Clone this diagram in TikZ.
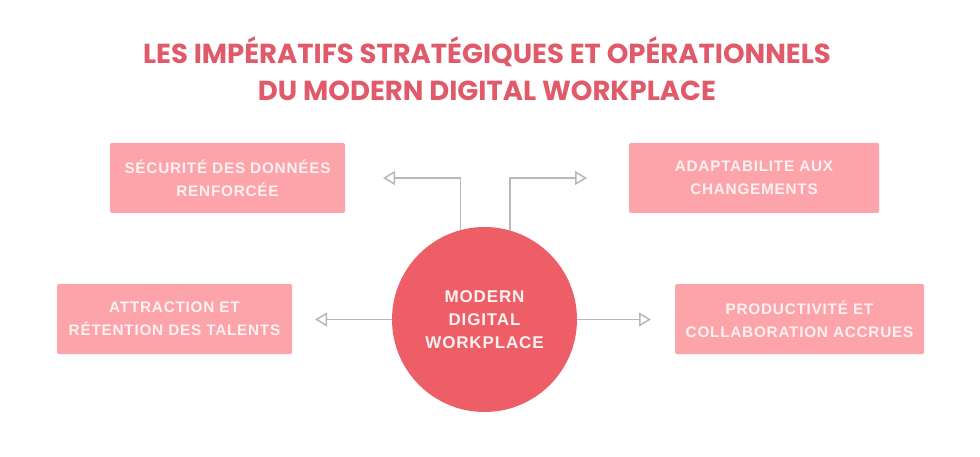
\documentclass[tikz,border=0pt]{standalone}
\usepackage{fontspec}
\usetikzlibrary{arrows.meta}
\newfontfamily\titlefont{Poppins}
\newfontfamily\boxfont{Liberation Sans}[LetterSpace=5]
\definecolor{titlec}{HTML}{E05A6A}
\definecolor{boxc}{HTML}{FDA4AB}
\definecolor{circc}{HTML}{EE5E66}
\definecolor{linec}{HTML}{B8B8B8}
\definecolor{txtc}{HTML}{FDF1F1}
\begin{document}
\begin{tikzpicture}[x=1pt,y=-1pt,
  boxn/.style={fill=boxc, draw=none, rounded corners=1.5pt, minimum height=70pt, inner sep=0pt, outer sep=0pt,
    align=center, text=txtc, font=\boxfont\bfseries\fontsize{15.3}{23}\selectfont},
  circn/.style={circle, fill=circc, draw=none, minimum size=185pt, inner sep=0pt, outer sep=0pt,
    align=center, text=txtc, font=\boxfont\bfseries\fontsize{17}{23}\selectfont},
  arr/.style={draw=linec, line width=1.5pt, -{Triangle[open, length=12pt, width=14pt, fill=white]}},
  titlen/.style={text=titlec, font=\titlefont\bfseries\fontsize{27.5}{37}\selectfont, align=center, inner sep=0pt}
]
\useasboundingbox[fill=white] (0,0) rectangle (980,457);
\node[titlen] (title) at (487,69) {LES IMPÉRATIFS STRATÉGIQUES ET OPÉRATIONNELS\\DU MODERN DIGITAL WORKPLACE};
\node[boxn, minimum width=235pt] (b1) at (227.5,178) {SÉCURITÉ DES DONNÉES\\RENFORCÉE};
\node[boxn, minimum width=250pt] (b2) at (754,178) {ADAPTABILITE AUX\\CHANGEMENTS};
\node[boxn, minimum width=235pt] (b3) at (174.5,319) {ATTRACTION ET\\RÉTENTION DES TALENTS};
\node[boxn, minimum width=249pt] (b4) at (799.5,319) {PRODUCTIVITÉ ET\\COLLABORATION ACCRUES};
\node[circn] (c) at (484.5,319.5) {MODERN\\DIGITAL\\WORKPLACE};
\coordinate (tl) at (383,178);
\coordinate (tr) at (587,178);
\coordinate (ml) at (315,319.5);
\coordinate (mr) at (651,319.5);
\draw[arr] (c.105.4) |- (tl);
\draw[arr] (c.74.6) |- (tr);
\draw[arr] (c.west) -- (ml);
\draw[arr] (c.east) -- (mr);
\end{tikzpicture}
\end{document}
